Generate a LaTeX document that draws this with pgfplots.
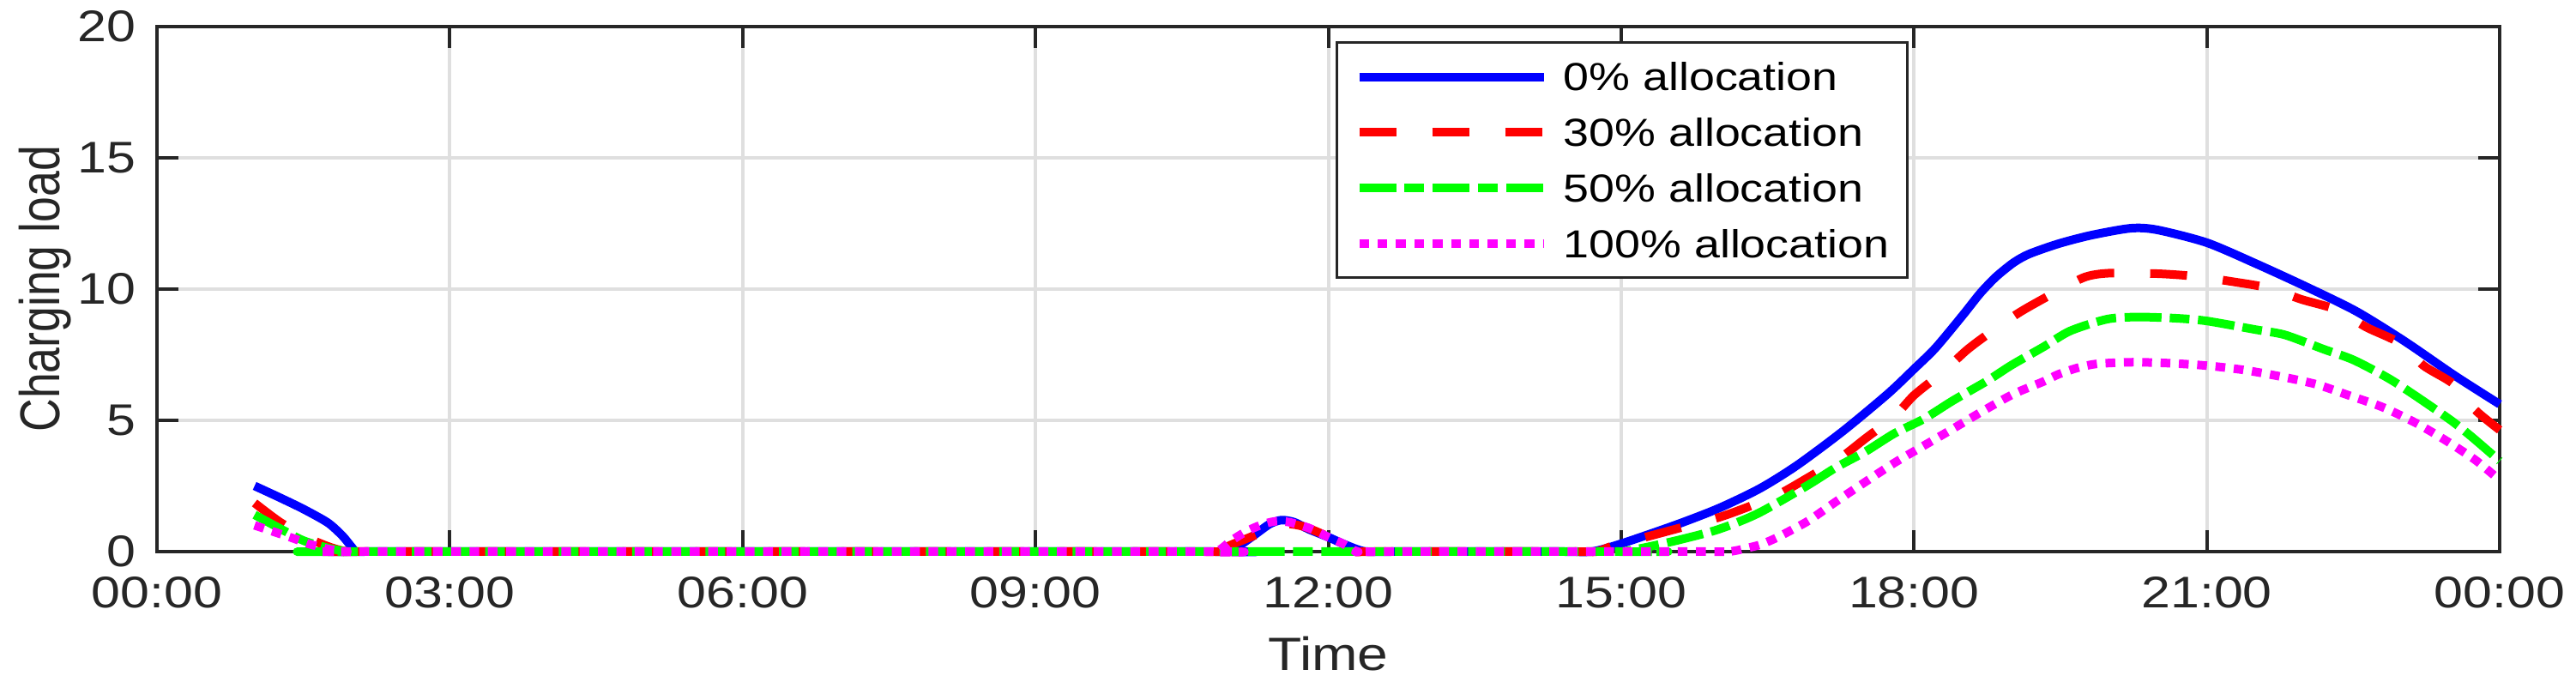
\documentclass[border=0pt]{standalone}
\usepackage{fontspec}
\setmainfont[FakeStretch=1.18]{Liberation Sans}
\newfontfamily\plainfont{Liberation Sans}
\usepackage{graphicx}
\usepackage{pgfplots}
\pgfplotsset{compat=1.18}
\definecolor{axgray}{HTML}{262626}
\definecolor{gridgray}{HTML}{DFDFDF}
\definecolor{mblue}{HTML}{0000FF}
\definecolor{mred}{HTML}{FF0000}
\definecolor{mgreen}{HTML}{00FF00}
\definecolor{mmag}{HTML}{FF00FF}

\pgfplotstableread{
x y
1.00 2.50
1.25 2.07
1.50 1.62
1.75 1.10
1.90 0.60
2.00 0.15
2.05 0
2.30 0
10.70 0
11.00 0
11.10 0.25
11.25 0.65
11.40 1.05
11.52 1.20
11.65 1.12
11.80 0.85
12.00 0.55
12.15 0.30
12.30 0.08
12.40 0
12.70 0
14.40 0
14.70 0
15.00 0.30
15.57 1.03
16.00 1.65
16.42 2.40
16.80 3.28
17.27 4.58
17.73 6.00
18.00 6.95
18.22 7.75
18.50 9.00
18.68 9.84
18.84 10.46
19.02 11.00
19.18 11.33
19.48 11.72
19.81 12.04
20.22 12.31
20.49 12.25
21.00 11.76
21.51 10.95
22.02 10.08
22.53 9.15
23.03 8.00
23.54 6.70
24.00 5.61
}\tblA

\pgfplotstableread{
x y
1.00 1.85
1.25 1.15
1.50 0.60
1.75 0.20
1.95 0
2.20 0
10.60 0
10.85 0
11.00 0.25
11.20 0.55
11.40 0.85
11.58 1.05
11.75 0.95
11.95 0.65
12.10 0.35
12.25 0
12.50 0
14.50 0
14.75 0
14.90 0.20
15.30 0.60
15.60 0.90
16.00 1.30
16.30 1.70
16.60 2.15
16.93 2.85
17.24 3.55
17.50 4.30
17.80 5.15
18.00 5.95
18.30 6.85
18.55 7.70
18.84 8.50
19.10 9.15
19.46 9.90
19.75 10.45
20.00 10.60
20.50 10.58
20.88 10.48
21.24 10.29
21.63 10.04
21.97 9.60
22.34 9.20
22.63 8.55
22.97 7.95
23.22 7.08
23.53 6.37
23.75 5.39
24.00 4.63
}\tblB

\pgfplotstableread{
x y
1.00 1.40
1.25 0.90
1.50 0.42
1.75 0.14
1.95 0
2.20 0
14.70 0
15.00 0
15.20 0.12
15.60 0.45
16.00 0.85
16.40 1.45
16.90 2.50
17.20 3.20
17.50 3.80
17.80 4.50
18.10 5.05
18.40 5.75
18.75 6.50
19.00 7.10
19.33 7.80
19.60 8.40
19.98 8.85
20.30 8.93
20.70 8.88
21.00 8.78
21.50 8.45
21.80 8.25
22.20 7.70
22.50 7.30
22.86 6.60
23.15 5.90
23.50 5.00
23.72 4.35
24.00 3.45
}\tblC

\pgfplotstableread{
x y
1.00 1.00
1.20 0.75
1.40 0.50
1.55 0.30
1.75 0.10
1.95 0
2.20 0
10.60 0
10.85 0
11.00 0.40
11.15 0.75
11.30 1.00
11.45 1.15
11.60 1.12
11.80 0.90
12.00 0.55
12.15 0.30
12.30 0
12.55 0
15.80 0
16.10 0
16.25 0.10
16.43 0.27
16.60 0.54
16.77 0.87
16.93 1.20
17.20 1.90
17.48 2.60
17.80 3.38
18.10 4.03
18.40 4.68
18.70 5.34
19.02 6.00
19.33 6.48
19.48 6.75
19.68 7.00
19.88 7.15
20.25 7.21
20.63 7.17
21.00 7.08
21.37 6.92
21.75 6.67
22.12 6.37
22.46 5.94
22.80 5.50
23.14 4.90
23.44 4.25
23.75 3.49
24.00 2.72
}\tblD

\begin{document}
\begin{tikzpicture}
\path[use as bounding box] (-45.75pt,-39.75pt) rectangle (705pt,160.75pt);
\begin{axis}[
  scale only axis,
  width=682.75pt, height=153.1pt,
  xmin=0, xmax=24, ymin=0, ymax=20,
  clip=false,
  xtick={0,3,6,9,12,15,18,21,24},
  xticklabels={00:00,03:00,06:00,09:00,12:00,15:00,18:00,21:00,00:00},
  ytick={0,5,10,15,20},
  yticklabels={0,5,10,15,20},
  xtick pos=both, ytick pos=both,
  tick align=inside,
  major tick length=6.3pt,
  axis line style={axgray, line width=1pt},
  every tick/.style={axgray, line width=1pt},
  grid=major,
  major grid style={gridgray, line width=1pt},
  tick label style={font=\fontsize{12.9pt}{15pt}\selectfont, text=axgray},
  xticklabel style={anchor=base, yshift=-16.5pt},
  yticklabel style={anchor=east, inner sep=0pt, xshift=-6pt},
  every axis x label/.style={at={(axis description cs:0.5,0)}, anchor=base, yshift=-34.7pt, font=\fontsize{13.6pt}{16pt}\selectfont, text=axgray},
  every axis y label/.style={at={(axis description cs:-0.04164,0.5)}, rotate=90, anchor=base, text=axgray},
  xlabel={Time},
  ylabel={\plainfont\fontsize{13.4pt}{16pt}\selectfont\scalebox{1}[1.22]{Charging load}},
  legend style={at={(axis description cs:0.5031,0.9718)}, anchor=north west,
    draw=axgray, line width=0.85pt, fill=white,
    inner xsep=5.25pt, inner ysep=5.9pt, row sep=7.97pt, column sep=4.5pt,
    font=\fontsize{11.4pt}{13pt}\selectfont, text=black,
    nodes={inner sep=0pt, text height=8.2pt, text depth=0pt}},
  legend cell align=left,
  legend image code/.code={\draw[#1, line width=2.5pt] (0pt,0pt) -- (53.75pt,0pt);},
  every axis plot/.append style={smooth, tension=0.45, line join=round, line width=2.5pt},
]
\addplot[mblue] table {\tblA};
\addlegendentry{0\% allocation}
\addplot[mred, dash pattern=on 10.75pt off 10.5pt] table {\tblB};
\addlegendentry{30\% allocation}
\addplot[mgreen, dash pattern=on 10.75pt off 2.4pt on 5.75pt off 2.5pt] table {\tblC};
\addlegendentry{50\% allocation}
\addplot[mmag, dash pattern=on 2.85pt off 2.5pt] table {\tblD};
\addlegendentry{100\% allocation}
\end{axis}
\end{tikzpicture}
\end{document}
